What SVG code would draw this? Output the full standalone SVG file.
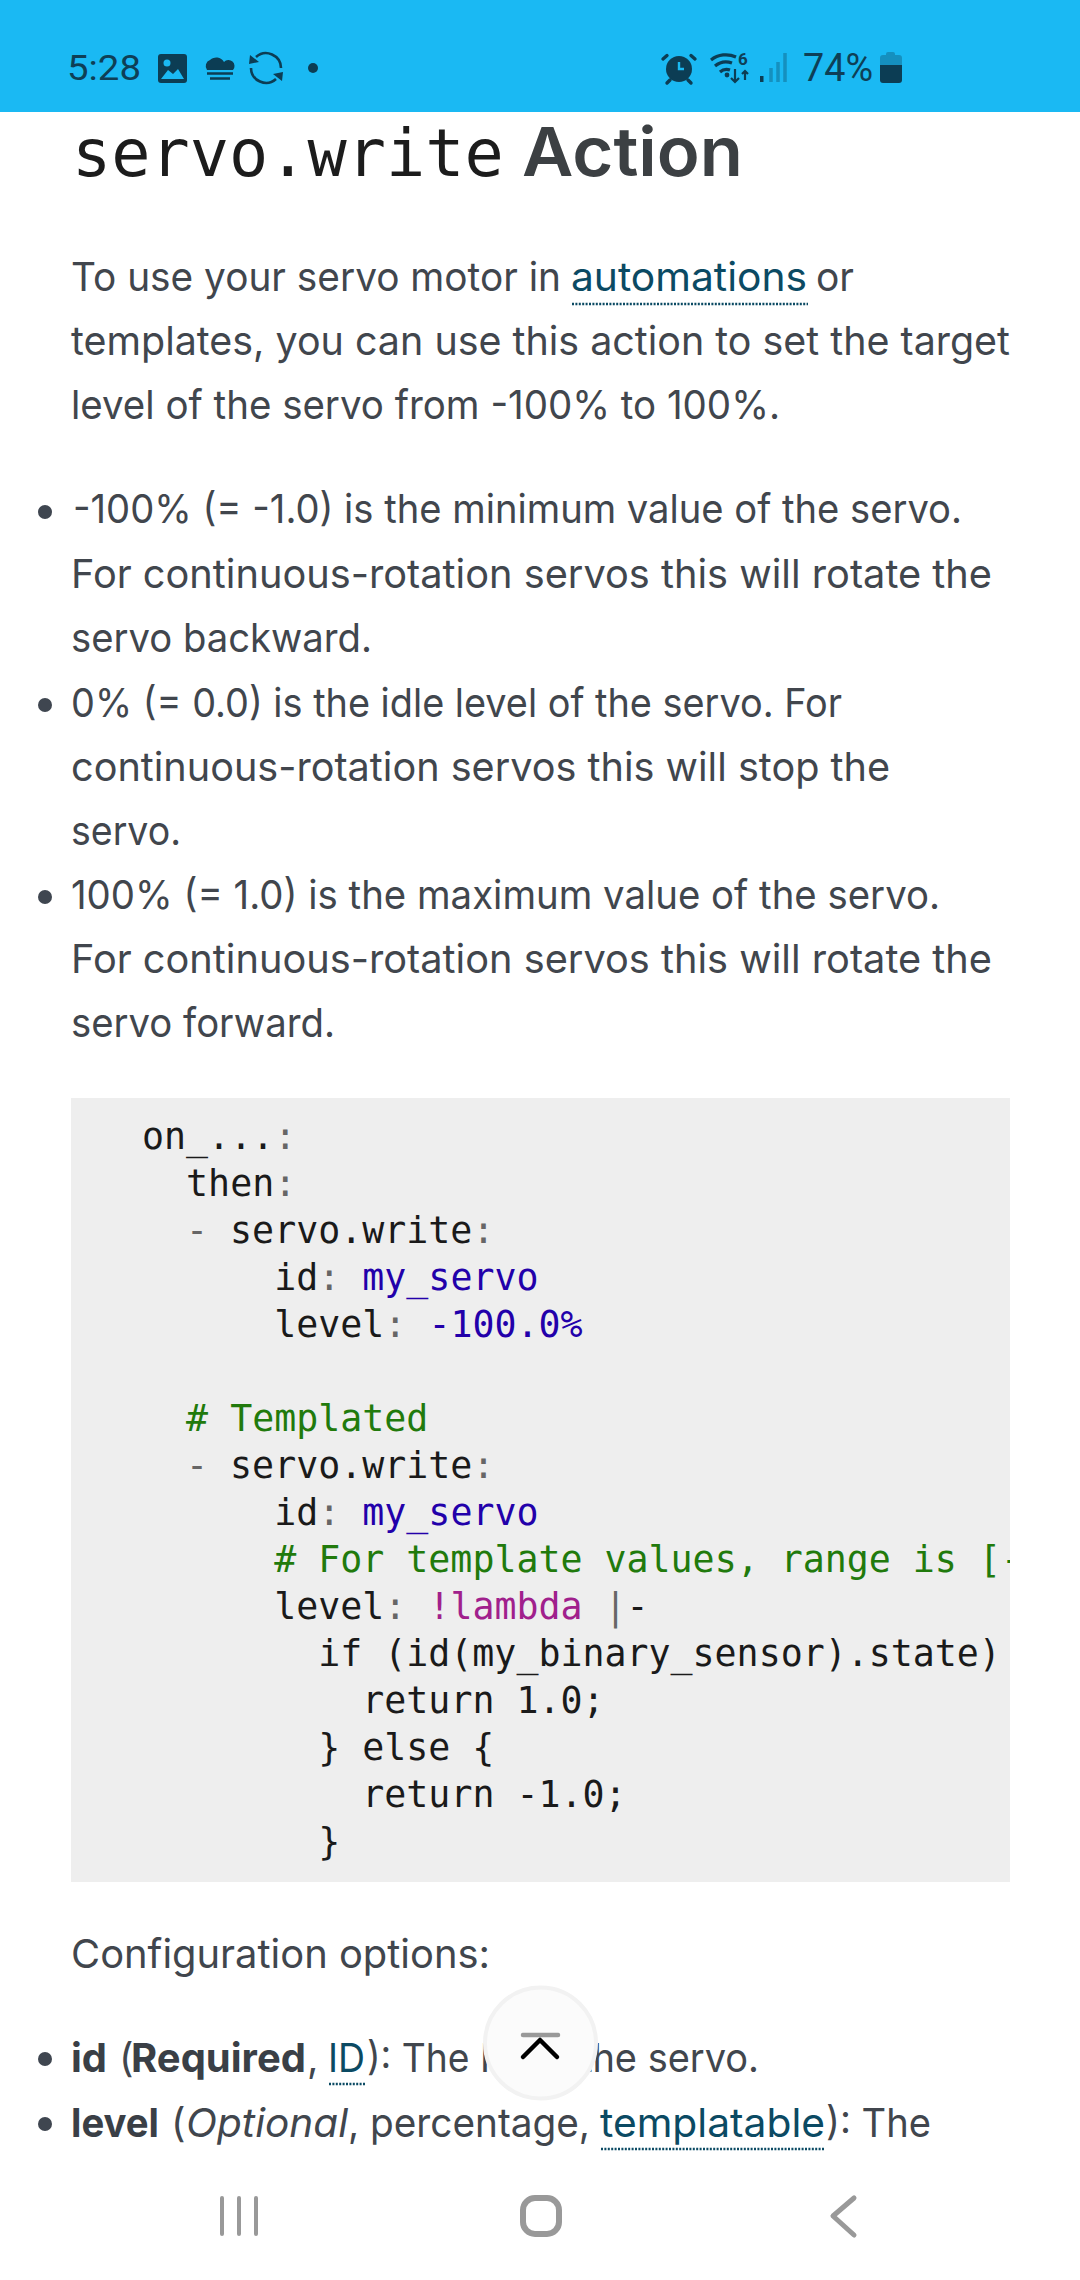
<svg xmlns="http://www.w3.org/2000/svg" width="1080" height="2280" viewBox="0 0 1080 2280">
<style>
.b{font-family:"Inter","Noto Sans",sans-serif;font-size:40px;fill:#41464d}
.l{fill:#0b4a63}
.s{font-weight:700;fill:#3a3f46}
.i{font-style:italic}
.u{stroke:#0b4a63;stroke-width:2.4;stroke-dasharray:2 1.4;fill:none}
.m{font-family:"DejaVu Sans Mono","Liberation Mono",monospace;font-size:36.6px;fill:#1a1a1a}
.p{fill:#666}
.n{fill:#2200aa}
.c{fill:#217a0c}
.g{fill:#a0208c}
.d{fill:#3f4650}
.st{font-family:"Roboto",sans-serif;fill:#0e3f56}
.ic{fill:#0c3d54}
.nv{fill:none;stroke:#999;stroke-linecap:round;stroke-linejoin:round}
</style>
<defs><clipPath id="codeclip"><rect x="71" y="1098" width="939" height="784"/></clipPath></defs>
<rect width="1080" height="2280" fill="#fff"/>
<g id="statusbar">
<rect width="1080" height="112" fill="#1ab9f3"/>
<text class="st" x="67" y="80" font-size="35" textLength="74" lengthAdjust="spacingAndGlyphs">5:28</text>
<rect class="ic" x="158" y="54" width="29" height="29" rx="3"/>
<circle cx="167" cy="63" r="3.5" fill="#1ab9f3"/>
<path d="M161 79l7-9 5 4 5-5 6 10z" fill="#1ab9f3"/>
<path class="ic" d="M207 70a6.500 6.500 0 0 1 3-10a9 9 0 0 1 14 2a6 6 0 0 1 9 8z"/>
<path d="M207 73.500h26M210 78.500h20" stroke="#0c3d54" stroke-width="2.400" fill="none"/>
<path d="M256 57A15 15 0 0 1 281 68M276 79A15 15 0 0 1 251 68" stroke="#0c3d54" stroke-width="2.600" fill="none"/>
<path class="ic" d="M250 55l9 7-10 2zM282 81l-9-7 10-2z"/>
<circle class="ic" cx="313" cy="68" r="5"/>
<circle class="ic" cx="679" cy="69" r="13"/>
<path d="M679 62v7h5" stroke="#1ab9f3" stroke-width="2.400" fill="none"/>
<path d="M667 55.500l-4 3.500M691 55.500l4 3.500M670 80l-3 3M688 80l3 3" stroke="#0c3d54" stroke-width="3.400" fill="none" stroke-linecap="round"/>
<path d="M711 60a24 24 0 0 1 25-3M715 66a17 17 0 0 1 17-3M720 72a10 10 0 0 1 10-2" stroke="#0c3d54" stroke-width="3.200" fill="none"/>
<circle class="ic" cx="727" cy="75" r="2.400"/>
<text class="st" x="738" y="65" font-size="17" font-weight="700">6</text>
<path d="M735 69v13M731 78l4 4 4-4M745 80v-9M742 74l3-3 3 3" stroke="#0c3d54" stroke-width="2.200" fill="none"/>
<rect x="760" y="76" width="3.500" height="6" class="ic"/>
<path d="M771 68v14M778 62v20M785 53v29" stroke="#1590bf" stroke-width="3.500" fill="none"/>
<text class="st" x="803" y="81" font-size="38" textLength="70" lengthAdjust="spacingAndGlyphs">74%</text>
<path d="M886 54a2 2 0 0 1 2-2h5a2 2 0 0 1 2 2v1h4a3 3 0 0 1 3 3v8h-22v-8a3 3 0 0 1 3-3h3z" fill="#1590bf"/>
<path class="ic" d="M880 65h22v15a3 3 0 0 1-3 3h-16a3 3 0 0 1-3-3z"/>
</g>
<g id="heading">
<text x="72" y="176" font-family="DejaVu Sans Mono,monospace" font-size="65.200" fill="#1c1c1c">servo.write</text>
<text x="522" y="176" font-family="Inter,sans-serif" font-weight="600" font-size="68" fill="#3c4043" textLength="221" lengthAdjust="spacingAndGlyphs">Action</text>
</g>
<g id="intro">
<text class="b" x="71" y="291" textLength="490" lengthAdjust="spacingAndGlyphs">To use your servo motor in</text>
<text class="b l" x="571" y="291" textLength="236" lengthAdjust="spacingAndGlyphs">automations</text>
<path class="u" d="M572 304H808"/>
<text class="b" x="816" y="291" textLength="38" lengthAdjust="spacingAndGlyphs">or</text>
<text class="b" x="71" y="355" textLength="939" lengthAdjust="spacingAndGlyphs">templates, you can use this action to set the target</text>
<text class="b" x="71" y="419" textLength="709" lengthAdjust="spacingAndGlyphs">level of the servo from -100% to 100%.</text>
</g>
<g id="list1">
<circle class="d" cx="45" cy="512" r="7"/>
<text class="b" x="73" y="523" textLength="889" lengthAdjust="spacingAndGlyphs">-100% (= -1.0) is the minimum value of the servo.</text>
<text class="b" x="71" y="588" textLength="921" lengthAdjust="spacingAndGlyphs">For continuous-rotation servos this will rotate the</text>
<text class="b" x="71" y="652" textLength="301" lengthAdjust="spacingAndGlyphs">servo backward.</text>
<circle class="d" cx="45" cy="705" r="7"/>
<text class="b" x="71" y="717" textLength="771" lengthAdjust="spacingAndGlyphs">0% (= 0.0) is the idle level of the servo. For</text>
<text class="b" x="71" y="781" textLength="819" lengthAdjust="spacingAndGlyphs">continuous-rotation servos this will stop the</text>
<text class="b" x="71" y="845" textLength="110" lengthAdjust="spacingAndGlyphs">servo.</text>
<circle class="d" cx="45" cy="897" r="7"/>
<text class="b" x="71" y="909" textLength="869" lengthAdjust="spacingAndGlyphs">100% (= 1.0) is the maximum value of the servo.</text>
<text class="b" x="71" y="973" textLength="921" lengthAdjust="spacingAndGlyphs">For continuous-rotation servos this will rotate the</text>
<text class="b" x="71" y="1037" textLength="264" lengthAdjust="spacingAndGlyphs">servo forward.</text>
</g>
<g id="code">
<rect x="71" y="1098" width="939" height="784" fill="#eee"/>
<g clip-path="url(#codeclip)">
<text class="m" y="1149"><tspan x="142">on_...</tspan><tspan class="p" x="274.200">:</tspan></text>
<text class="m" y="1196"><tspan x="186.100">then</tspan><tspan class="p" x="274.200">:</tspan></text>
<text class="m" y="1243"><tspan class="p" x="186.100">-</tspan><tspan x="230.100">servo.write</tspan><tspan class="p" x="472.500">:</tspan></text>
<text class="m" y="1290"><tspan x="274.200">id</tspan><tspan class="p" x="318.200">:</tspan><tspan class="n" x="362.300">my_servo</tspan></text>
<text class="m" y="1337"><tspan x="274.200">level</tspan><tspan class="p" x="384.300">:</tspan><tspan class="n" x="428.400">-100.0%</tspan></text>
<text class="m c" x="186.100" y="1431"># Templated</text>
<text class="m" y="1478"><tspan class="p" x="186.100">-</tspan><tspan x="230.100">servo.write</tspan><tspan class="p" x="472.500">:</tspan></text>
<text class="m" y="1525"><tspan x="274.200">id</tspan><tspan class="p" x="318.200">:</tspan><tspan class="n" x="362.300">my_servo</tspan></text>
<text class="m c" x="274.200" y="1572"># For template values, range is [-</text>
<text class="m" y="1619"><tspan x="274.200">level</tspan><tspan class="p" x="384.300">:</tspan><tspan class="g" x="428.400">!lambda</tspan><tspan class="p" x="604.600">|</tspan><tspan x="626.600">-</tspan></text>
<text class="m" x="318.200" y="1666">if (id(my_binary_sensor).state)</text>
<text class="m" x="362.300" y="1713">return 1.0;</text>
<text class="m" x="318.200" y="1760">} else {</text>
<text class="m" x="362.300" y="1807">return -1.0;</text>
<text class="m" x="318.200" y="1854">}</text>
</g>
</g>
<g id="config">
<text class="b" x="71" y="1968" textLength="419" lengthAdjust="spacingAndGlyphs">Configuration options:</text>
<circle class="d" cx="45" cy="2059" r="7"/>
<text class="b s" x="71" y="2072" textLength="36" lengthAdjust="spacingAndGlyphs">id</text>
<text class="b" x="119" y="2072">(</text>
<text class="b s" x="131" y="2072" textLength="175" lengthAdjust="spacingAndGlyphs">Required</text>
<text class="b" x="307" y="2072">,</text>
<text class="b l" x="328" y="2072" textLength="37" lengthAdjust="spacingAndGlyphs">ID</text>
<path class="u" d="M329 2084H365"/>
<text class="b" x="367" y="2072" textLength="123" lengthAdjust="spacingAndGlyphs">): The I</text>
<text class="b" x="580" y="2072" textLength="179" lengthAdjust="spacingAndGlyphs">the servo.</text>
<circle class="d" cx="45" cy="2124" r="7"/>
<text class="b s" x="71" y="2137" textLength="88" lengthAdjust="spacingAndGlyphs">level</text>
<text class="b" x="171" y="2137">(</text>
<text class="b i" x="186" y="2137" textLength="162" lengthAdjust="spacingAndGlyphs">Optional</text>
<text class="b" x="348" y="2137" textLength="242" lengthAdjust="spacingAndGlyphs">, percentage,</text>
<text class="b l" x="600" y="2137" textLength="225" lengthAdjust="spacingAndGlyphs">templatable</text>
<path class="u" d="M601 2149H825"/>
<text class="b" x="826" y="2137" textLength="105" lengthAdjust="spacingAndGlyphs">): The</text>
</g>
<g id="scrolltop">
<circle cx="540.500" cy="2043" r="55.500" fill="#fbfbfb" stroke="#f2f2f2" stroke-width="4"/>
<path d="M523 2035H558" stroke="#999" stroke-width="4.500" stroke-linecap="round"/>
<path d="M523 2057L540 2040L557 2057" stroke="#000" stroke-width="4.500" fill="none" stroke-linecap="round" stroke-linejoin="round"/>
</g>
<g id="navbar">
<path class="nv" stroke-width="4" d="M222 2198V2234M239 2198V2234M256 2198V2234"/>
<rect class="nv" x="523" y="2198" width="36" height="36" rx="12" stroke-width="6"/>
<path class="nv" stroke-width="5" d="M854 2198L833 2216L854 2235"/>
</g>
</svg>
